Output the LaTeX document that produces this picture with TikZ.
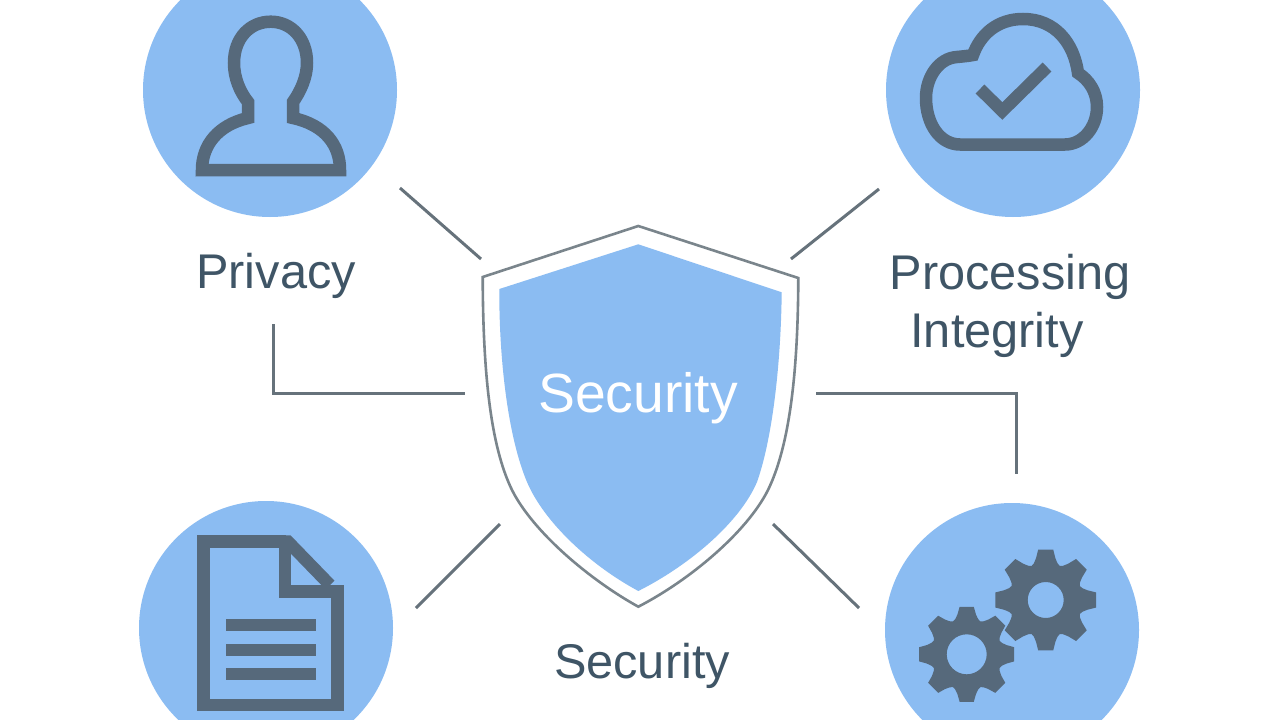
\documentclass[tikz,border=0pt]{standalone}
\usepackage{fontspec}
\setmainfont{Liberation Sans}
\definecolor{bluefill}{HTML}{8BBCF2}
\definecolor{icon}{HTML}{56697B}
\definecolor{conn}{HTML}{66727B}
\definecolor{shieldline}{HTML}{7A858C}
\definecolor{labeltext}{HTML}{3F5566}
\tikzset{
  disc/.style={circle,fill=bluefill,draw=none,minimum size=254pt,inner sep=0pt},
  iconline/.style={draw=icon,line width=12.5pt,miter limit=6,line join=miter},
  connector/.style={draw=conn,line width=3pt},
  lbl/.style={text=labeltext,anchor=base,inner sep=0pt,font=\fontsize{48.7pt}{58pt}\selectfont},
  lblwhite/.style={text=white,anchor=base,inner sep=0pt,font=\fontsize{55.3pt}{66pt}\selectfont},
}
\newcommand{\gearshape}[8]{% cx cy R rt rc hole dR dr
  \begin{scope}[shift={(#1,#2)}]
    \fill[icon,even odd rule] (-#7:#3)
      \foreach \a in {0,45,...,315}{
        -- (\a-#7:#3) -- (\a+#7:#3) -- (\a+#8:#4)
        .. controls (\a+22.5:#5) .. (\a+45-#8:#4)
      } -- cycle (0,0) circle (#6);
  \end{scope}
}
\begin{document}
\begin{tikzpicture}[x=1pt,y=-1pt]
\useasboundingbox (0,0) rectangle (1280,720);
\clip (0,0) rectangle (1280,720);
\fill[white] (0,0) rectangle (1280,720);

% discs
\node[disc] (privacy) at (270,90) {};
\node[disc] (cloud) at (1013,90) {};
\node[disc] (doc) at (266,628) {};
\node[disc] (gears) at (1012,630) {};

% connector ends
\coordinate (a1) at (400,188); \coordinate (a2) at (481,259);
\coordinate (b1) at (879,189); \coordinate (b2) at (791,259);
\coordinate (c1) at (273,324); \coordinate (c2) at (273,393); \coordinate (c3) at (465,393);
\coordinate (d1) at (816,393); \coordinate (d2) at (1016,393); \coordinate (d3) at (1016,474);
\coordinate (e1) at (500,524); \coordinate (e2) at (416,608);
\coordinate (f1) at (773,524); \coordinate (f2) at (859,608);
\draw[connector] (a1) -- (a2);
\draw[connector] (b1) -- (b2);
\draw[connector] (c1) -- (c2) -- (c3);
\draw[connector] (d1) -- (d2) -- (d3);
\draw[connector] (e1) -- (e2);
\draw[connector] (f1) -- (f2);

% shield
\draw[shieldline,line width=2.6pt,fill=white,line join=miter]
  (638.3,226) -- (798.3,278)
  .. controls (798,370) and (790,445) .. (768,490)
  .. controls (747,532) and (690,580) .. (638.3,606.7)
  .. controls (590,580) and (533,532) .. (512,490)
  .. controls (490,445) and (483,370) .. (482.7,277) -- cycle;
\fill[bluefill]
  (638.3,244.3) -- (781.7,292.3)
  .. controls (781,360) and (773,437) .. (757,482)
  .. controls (740,522) and (690,565) .. (638.3,591)
  .. controls (590,565) and (544,522) .. (527,482)
  .. controls (508,437) and (499,360) .. (499.3,289) -- cycle;

% person
\draw[iconline]
  (248,102) .. controls (240,92) and (234,78) .. (234,63)
  .. controls (234,38) and (250,21.7) .. (270.7,21.7)
  .. controls (291,21.7) and (307,38) .. (307,63)
  .. controls (307,78) and (300,92) .. (293,102)
  -- (293,118) .. controls (325,125) and (340,145) .. (340,170)
  -- (202,170) .. controls (202,145) and (218,125) .. (248,118) -- cycle;

% cloud with check
\draw[iconline]
  (960,144.5) -- (1065,144.5)
  .. controls (1083,144.5) and (1097,127) .. (1097,107)
  .. controls (1097,92) and (1089,80) .. (1078,73)
  .. controls (1074,43) and (1055,19) .. (1023,19)
  .. controls (997,19) and (980,35) .. (973,55)
  .. controls (968,56) and (962,56.5) .. (957,57)
  .. controls (939,58) and (926,77) .. (926,98)
  .. controls (926,124) and (940,144.5) .. (960,144.5) -- cycle;
\draw[iconline] (980,89) -- (1002.3,111) -- (1047,67);

% document
\draw[iconline] (286,541.7) -- (203.3,541.7) -- (203.3,705) -- (337.3,705) -- (337.3,591.7) -- (285,591.7) -- (285,541.7);
\draw[iconline] (283,541.7) -- (288,541.7) -- (330,585);
\draw[draw=icon,line width=12.6pt] (226,625) -- (315.7,625);
\draw[draw=icon,line width=12.6pt] (226,650) -- (315.7,650);
\draw[draw=icon,line width=12.6pt] (226,674) -- (315.7,674);

% gears
\gearshape{1045.7}{600}{51}{43}{35}{18}{8.5}{13}
\gearshape{966.7}{654.3}{48}{41}{34}{20}{8.5}{13}

% labels
\node[lbl] (tprivacy) at (276,288) {Privacy};
\node[lbl] (tproc) at (1010,289) {Processing};
\node[lbl] (tinteg) at (997,347) {Integrity};
\node[lbl] (tsec) at (642,678) {Security};
\node[lblwhite] (tshield) at (638,412) {Security};
\end{tikzpicture}
\end{document}
